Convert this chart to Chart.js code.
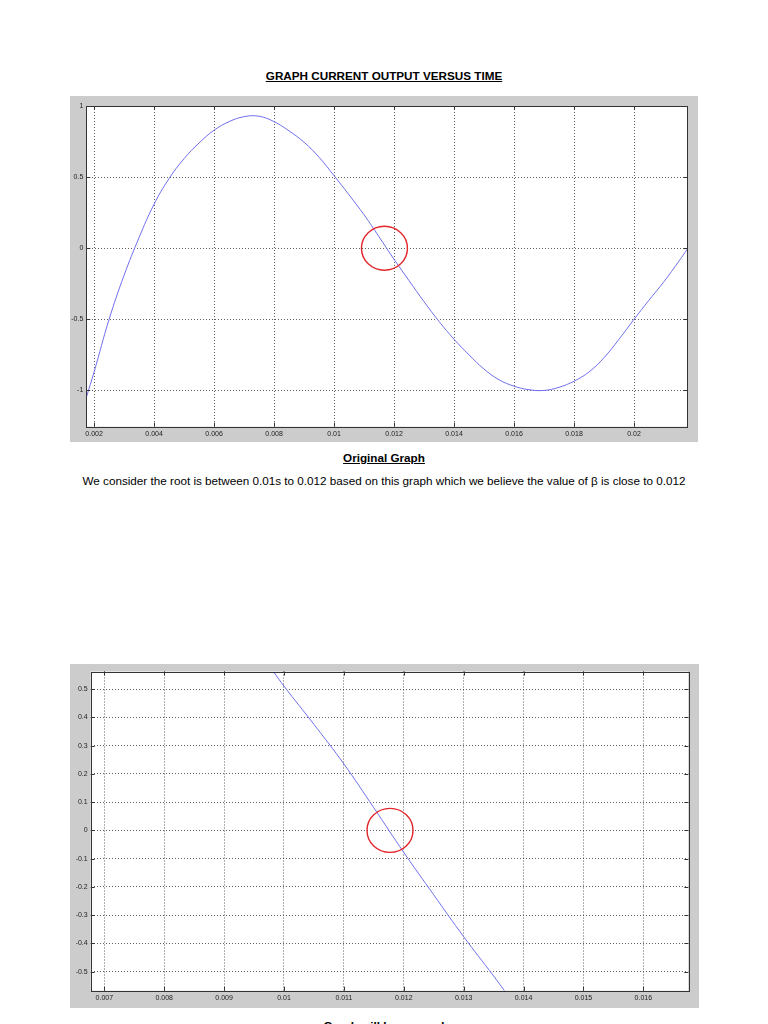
<!DOCTYPE html>
<html>
<head>
<meta charset="utf-8">
<script src="https://cdn.jsdelivr.net/npm/chart.js@4.4.1/dist/chart.umd.min.js"></script>
<style>
body { margin: 0; width: 768px; height: 1024px; overflow: hidden; background: #fff; position: relative; font-family: "Liberation Sans", Arial, sans-serif; color: #000; }
.cap { position: absolute; left: 0; width: 768px; text-align: center; font-size: 11.7px; line-height: 13px; white-space: nowrap; }
.b { font-weight: bold; text-decoration: underline; }
canvas { position: absolute; background: #cccccc; }
</style>
</head>
<body>
<div class="cap b" style="top:69px">GRAPH CURRENT OUTPUT VERSUS TIME</div>
<canvas id="c1" width="628" height="346" style="left:70px;top:96px"></canvas>
<div class="cap b" style="top:451px">Original Graph</div>
<div class="cap" style="top:474px">We consider the root is between 0.01s to 0.012 based on this graph which we believe the value of β is close to 0.012</div>
<canvas id="c2" width="629" height="344" style="left:70px;top:664px"></canvas>
<div class="cap b" style="top:1019px">Graph will be zoomed</div>
<script>
// original graph: current output versus time
var time1 = [0.00174, 0.002, 0.0025, 0.003, 0.0035, 0.004, 0.0045, 0.005, 0.0055, 0.006, 0.0065, 0.007, 0.0075, 0.008, 0.0085, 0.009, 0.0095, 0.01, 0.0105, 0.011, 0.0115, 0.012, 0.0125, 0.013, 0.0135, 0.014, 0.0145, 0.015, 0.0155, 0.016, 0.0165, 0.017, 0.0175, 0.018, 0.0185, 0.019, 0.0195, 0.02, 0.0205, 0.021, 0.0215, 0.0218];
var current1 = [-1.05, -0.87, -0.5, -0.19, 0.075, 0.31, 0.49, 0.63, 0.74, 0.83, 0.89, 0.925, 0.928, 0.89, 0.825, 0.745, 0.64, 0.51, 0.375, 0.235, 0.08, -0.078, -0.228, -0.376, -0.515, -0.64, -0.75, -0.85, -0.925, -0.97, -0.995, -1.0, -0.978, -0.935, -0.87, -0.77, -0.64, -0.5, -0.365, -0.235, -0.09, 0.0];
var xTicks1 = [0.002, 0.004, 0.006, 0.008, 0.01, 0.012, 0.014, 0.016, 0.018, 0.02];
var xLabels1 = ['0.002', '0.004', '0.006', '0.008', '0.01', '0.012', '0.014', '0.016', '0.018', '0.02'];
var yTicks1 = [-1, -0.5, 0, 0.5, 1];
var yLabels1 = ['-1', '-0.5', '0', '0.5', '1'];
var root1 = [0.01168, 0];

// zoomed graph around the root
var time2 = [0.00983, 0.01, 0.0105, 0.011, 0.0115, 0.012, 0.0125, 0.013, 0.0135, 0.01368];
var current2 = [0.56, 0.51, 0.375, 0.235, 0.08, -0.078, -0.228, -0.376, -0.515, -0.567];
var xTicks2 = [0.007, 0.008, 0.009, 0.01, 0.011, 0.012, 0.013, 0.014, 0.015, 0.016];
var xLabels2 = ['0.007', '0.008', '0.009', '0.01', '0.011', '0.012', '0.013', '0.014', '0.015', '0.016'];
var yTicks2 = [-0.5, -0.4, -0.3, -0.2, -0.1, 0, 0.1, 0.2, 0.3, 0.4, 0.5];
var yLabels2 = ['-0.5', '-0.4', '-0.3', '-0.2', '-0.1', '0', '0.1', '0.2', '0.3', '0.4', '0.5'];
var root2 = [0.01177, 0];

// white plot box, matlab style frame with inner ticks, red circle on the root
var frame = {
    id: 'frame',
    beforeDraw: function(chart) {
        var ctx = chart.ctx, a = chart.chartArea;
        ctx.save();
        ctx.fillStyle = '#fff';
        ctx.fillRect(a.left, a.top, a.right - a.left, a.bottom - a.top);
        ctx.restore();
    },
    afterDraw: function(chart, args, opts) {
        var ctx = chart.ctx, a = chart.chartArea;
        var x = chart.scales.x, y = chart.scales.y;
        ctx.save();
        ctx.strokeStyle = '#333';
        ctx.lineWidth = 1;
        ctx.beginPath();
        x.ticks.forEach(function(t) {
            var px = Math.round(x.getPixelForValue(t.value)) + 0.5;
            ctx.moveTo(px, a.bottom); ctx.lineTo(px, a.bottom - 4);
            ctx.moveTo(px, a.top); ctx.lineTo(px, a.top + 4);
        });
        y.ticks.forEach(function(t) {
            var py = Math.round(y.getPixelForValue(t.value)) + 0.5;
            ctx.moveTo(a.left, py); ctx.lineTo(a.left + 4, py);
            ctx.moveTo(a.right, py); ctx.lineTo(a.right - 4, py);
        });
        ctx.stroke();
        ctx.strokeRect(Math.round(a.left) + 0.5, Math.round(a.top) + 0.5, Math.round(a.right - a.left), Math.round(a.bottom - a.top));

        ctx.strokeStyle = '#e3262b';
        ctx.lineWidth = 1.4;
        ctx.beginPath();
        ctx.ellipse(x.getPixelForValue(opts.root[0]), y.getPixelForValue(opts.root[1]), 23, 22, 0, 0, Math.PI * 2);
        ctx.stroke();
        ctx.restore();
    }
};

function makeChart(id, time, current, xTicks, xLabels, yTicks, yLabels, lim, root, pad, yWidth, xHeight) {
    var pts = time.map(function(t, i) { return { x: t, y: current[i] }; });
    var tickFont = { family: 'Liberation Sans', size: 7 };
    return new Chart(document.getElementById(id).getContext('2d'), {
        type: 'line',
        data: {
            datasets: [{
                data: pts,
                borderColor: '#7070ee',
                borderWidth: 1,
                pointRadius: 0,
                tension: 0.4,
                fill: false
            }]
        },
        options: {
            responsive: false,
            animation: false,
            events: [],
            layout: { padding: pad },
            plugins: {
                legend: { display: false },
                tooltip: { enabled: false },
                frame: { root: root }
            },
            scales: {
                x: {
                    type: 'linear',
                    min: lim[0], max: lim[1],
                    afterBuildTicks: function(s) { s.ticks = xTicks.map(function(v) { return { value: v }; }); },
                    afterFit: function(s) { s.height = xHeight; },
                    ticks: {
                        callback: function(v, i) { return xLabels[i]; },
                        font: tickFont, color: '#222', padding: 3,
                        maxRotation: 0, autoSkip: false
                    },
                    grid: { color: 'rgba(40,40,40,0.75)', drawTicks: false, lineWidth: 1 },
                    border: { display: false, dash: [1, 2] }
                },
                y: {
                    type: 'linear',
                    min: lim[2], max: lim[3],
                    afterBuildTicks: function(s) { s.ticks = yTicks.map(function(v) { return { value: v }; }); },
                    afterFit: function(s) { s.width = yWidth; },
                    ticks: {
                        callback: function(v, i) { return yLabels[i]; },
                        font: tickFont, color: '#222', padding: 3
                    },
                    grid: { color: 'rgba(40,40,40,0.75)', drawTicks: false, lineWidth: 1 },
                    border: { display: false, dash: [1, 2] }
                }
            }
        },
        plugins: [frame]
    });
}

makeChart('c1', time1, current1, xTicks1, xLabels1, yTicks1, yLabels1,
    [0.00174, 0.02179, -1.255, 1.0], root1,
    { top: 10, right: 10.3, bottom: 0, left: 0 }, 16.3, 15.3);

makeChart('c2', time2, current2, xTicks2, xLabels2, yTicks2, yLabels2,
    [0.006773, 0.01675, -0.567, 0.562], root2,
    { top: 7.5, right: 10.7, bottom: 0, left: 0 }, 20.7, 17.3);
</script>
</body>
</html>
